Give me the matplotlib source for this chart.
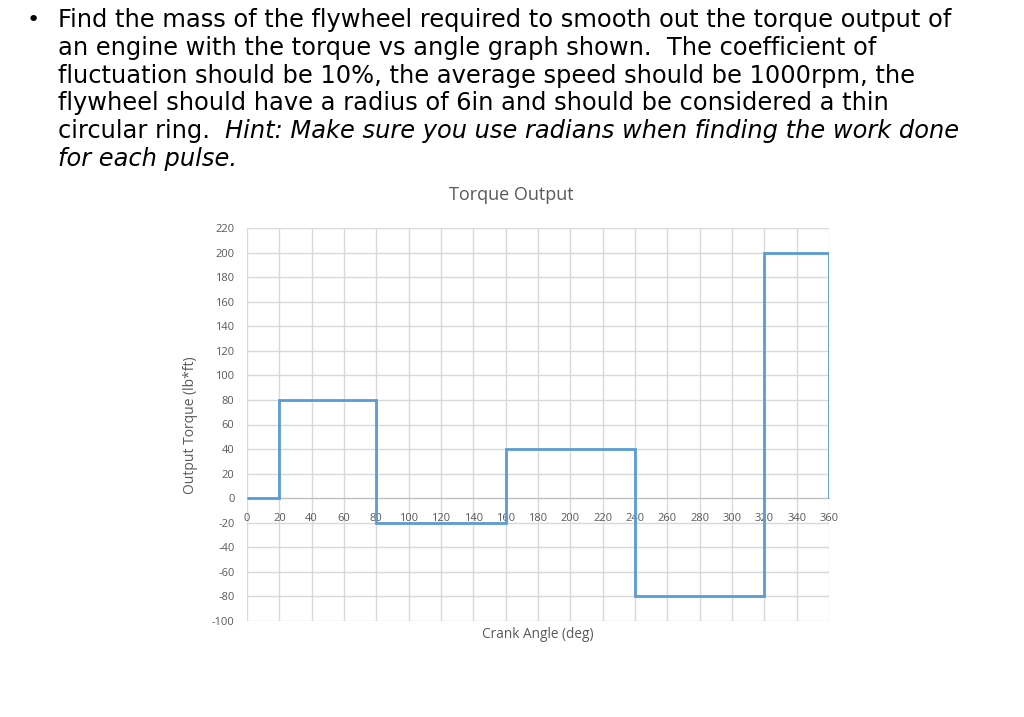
import numpy as np
import matplotlib.pyplot as plt

plt.rcParams["axes.unicode_minus"] = False

# crank angle segment edges (deg) and torque in each segment (lb*ft)
angle_edges = [0, 20, 80, 160, 240, 320, 360]
torque = [0, 80, -20, 40, -80, 200]

x_ticks = list(range(0, 361, 20))
y_ticks = list(range(-100, 221, 20))

question_lines = [
    ("Find the mass of the flywheel required to smooth out the torque output of", ""),
    ("an engine with the torque vs angle graph shown.  The coefficient of", ""),
    ("fluctuation should be 10%, the average speed should be 1000rpm, the", ""),
    ("flywheel should have a radius of 6in and should be considered a thin", ""),
    ("circular ring.  ", "Hint: Make sure you use radians when finding the work done"),
    ("", "for each pulse."),
]

text_gray = "#595959"
grid_gray = "#D9D9D9"
line_blue = "#5B9BD5"

fig = plt.figure(figsize=(10.24, 7.17), dpi=100)

# question text above the chart
fig.text(33 / 1024, 1 - 20 / 717, "\u2022", fontsize=16, va="center", ha="center",
         family="DejaVu Sans", color="black")
for i, (plain, italic) in enumerate(question_lines):
    y = 1 - (20 + i * 27.8) / 717
    t = None
    if plain:
        t = fig.text(58 / 1024, y, plain, fontsize=17.4, va="center", ha="left",
                     family="DejaVu Sans", color="black")
    if italic:
        if t is not None:
            fig.canvas.draw()
            bb = t.get_window_extent()
            x0 = bb.x1 / fig.bbox.width
        else:
            x0 = 58 / 1024
        fig.text(x0, y, italic, fontsize=17.4, va="center", ha="left",
                 family="DejaVu Sans", style="italic", color="black")

ax = fig.add_axes([247 / 1024, 1 - 621 / 717, 582 / 1024, 393 / 717])
ax.stairs(torque, angle_edges, baseline=0, color=line_blue, linewidth=2, zorder=3)

ax.set_xlim(0, 360)
ax.set_ylim(-100, 220)
ax.set_xticks(x_ticks)
ax.set_yticks(y_ticks)
ax.grid(True, color=grid_gray, linewidth=1)
ax.set_axisbelow(True)

for s in ["top", "right", "left"]:
    ax.spines[s].set_visible(False)
ax.spines["bottom"].set_position(("data", 0))
ax.spines["bottom"].set_color("#BFBFBF")
ax.tick_params(length=0, labelsize=8, labelcolor=text_gray)
ax.tick_params(axis="x", pad=11)
ax.tick_params(axis="y", pad=9)
for lab in ax.get_xticklabels() + ax.get_yticklabels():
    lab.set_family("Open Sans")

fig.text(511 / 1024, 1 - 195 / 717, "Torque Output", fontsize=13, color=text_gray,
         family="Open Sans", ha="center", va="center")
fig.text(538 / 1024, 1 - 634 / 717, "Crank Angle (deg)", fontsize=9.8, color=text_gray,
         family="Open Sans", ha="center", va="center")
fig.text(190 / 1024, 1 - 425 / 717, "Output Torque (lb*ft)", fontsize=10, color=text_gray,
         family="Open Sans", ha="center", va="center", rotation=90)

fig.savefig("out.png", dpi=100)
